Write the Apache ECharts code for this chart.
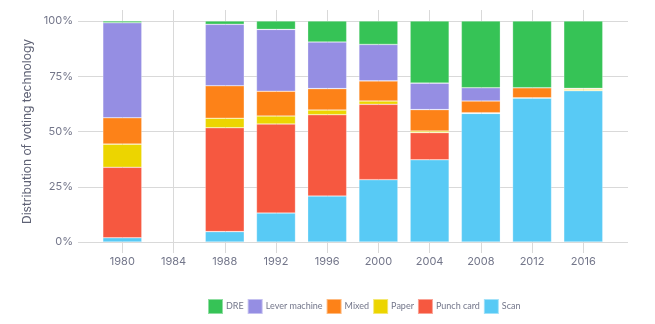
<!DOCTYPE html>
<html>
<head>
<meta charset="utf-8">
<script src="https://cdn.jsdelivr.net/npm/echarts@6/dist/echarts.min.js"></script>
<style>
	html, body { margin: 0; padding: 0; background: #fff; }
	#chart { width: 655px; height: 324px; }
</style>
</head>
<body>
<div id="chart"></div>
<script>
	// years on the x axis, padded with blanks so the first/last ticks fall outside the bars
	var years = ['', '1980', '1984', '1988', '1992', '1996', '2000', '2004', '2008', '2012', '2016', ''];

	// share of each technology, percent
	var scan      = [null, 1.9, null, 4.7, 13.1, 20.8, 28.2, 37.2, 58.2, 65.2, 68.5, null];
	var punchCard = [null, 31.9, null, 47.0, 40.3, 36.8, 34.1, 12.3, 0.2, 0, 0, null];
	var paper     = [null, 10.5, null, 4.3, 3.6, 2.1, 1.5, 0.7, 0.1, 0, 0.6, null];
	var mixed     = [null, 11.9, null, 14.7, 11.2, 9.7, 9.1, 9.7, 5.3, 4.6, 0.4, null];
	var lever     = [null, 43.0, null, 27.8, 28.0, 21.1, 16.5, 12.0, 6.0, 0, 0, null];
	var dre       = [null, 0.8, null, 1.5, 3.8, 9.5, 10.6, 28.1, 30.2, 30.2, 30.5, null];

	var yTicks = [0, 25, 50, 75, 100];

	var names = ['DRE', 'Lever machine', 'Mixed', 'Paper', 'Punch card', 'Scan'];
	var colors = {
		'DRE': '#36c356',
		'Lever machine': '#958ee3',
		'Mixed': '#fd8218',
		'Paper': '#ecd500',
		'Punch card': '#f65840',
		'Scan': '#58caf5'
	};

	var labelColor = '#73768a';
	var gridColor = '#d9d9d9';

	function showYear(idx) { return idx > 0 && idx < years.length - 1; }

	function barSeries(name, data) {
		return {
			name: name,
			type: 'bar',
			stack: 'all',
			xAxisIndex: 0,
			yAxisIndex: 1,
			barWidth: 39,
			data: data,
			itemStyle: { color: colors[name], borderColor: 'rgba(255,255,255,0.45)', borderWidth: 0.6 }
		};
	}

	var chart = echarts.init(document.getElementById('chart'), null, { renderer: 'canvas' });

	chart.setOption({
		animation: false,
		textStyle: { fontFamily: 'Inter, "Noto Sans", sans-serif' },
		grid: [
			{ left: 78, right: 27, top: 21, bottom: 82 },
			{ left: 71.1, right: 20.5, top: 21, bottom: 82 }
		],
		legend: {
			data: names,
			left: 202,
			top: 293,
			itemWidth: 15,
			itemHeight: 15,
			itemGap: 3,
			icon: 'rect',
			textStyle: { color: labelColor, fontSize: 9, fontFamily: 'Lato, sans-serif', padding: [0, 0, 0, -2] }
		},
		xAxis: [
			{
				type: 'category',
				gridIndex: 1,
				data: years,
				boundaryGap: false,
				axisLine: { show: false },
				axisTick: { show: true, length: 11, interval: function(i) { return showYear(i); }, lineStyle: { color: gridColor } },
				splitLine: { show: true, interval: function(i) { return showYear(i); }, lineStyle: { color: gridColor } },
				axisLabel: { color: labelColor, fontSize: 11, margin: 14, interval: 0 }
			},
			{
				type: 'category',
				gridIndex: 1,
				position: 'top',
				data: years,
				boundaryGap: false,
				axisLine: { show: false },
				axisTick: { show: true, length: 11, interval: function(i) { return showYear(i); }, lineStyle: { color: gridColor } },
				axisLabel: { show: false }
			},
			{
				type: 'value',
				gridIndex: 0,
				show: false
			}
		],
		yAxis: [
			{
				type: 'value',
				gridIndex: 0,
				min: yTicks[0],
				max: yTicks[yTicks.length - 1],
				interval: 25,
				name: 'Distribution of voting technology',
				nameLocation: 'middle',
				nameGap: 40,
				nameTextStyle: { color: '#5f6275', fontSize: 12 },
				axisLine: { show: false },
				axisTick: { show: false },
				splitLine: { lineStyle: { color: gridColor } },
				axisLabel: { color: labelColor, fontSize: 11, margin: 5, formatter: '{value}%' }
			},
			{
				type: 'value',
				gridIndex: 1,
				min: 0,
				max: 100,
				show: false
			}
		],
		series: [
			barSeries('Scan', scan),
			barSeries('Punch card', punchCard),
			barSeries('Paper', paper),
			barSeries('Mixed', mixed),
			barSeries('Lever machine', lever),
			barSeries('DRE', dre)
		]
	});
</script>
</body>
</html>
